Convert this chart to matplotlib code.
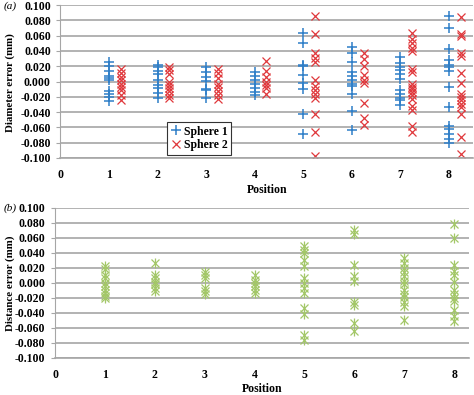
import numpy as np
import matplotlib.pyplot as plt

# ==== DATOS ====
positions = [1, 2, 3, 4, 5, 6, 7, 8]

# Panel (a): error de diámetro (mm) por posición
sphere1 = [
    [0.026, 0.020, 0.014, 0.007, 0.005, 0.002, -0.012, -0.016, -0.020, -0.026],
    [0.022, 0.019, 0.014, 0.010, 0.002, -0.005, -0.009, -0.015, -0.022],
    [0.019, 0.012, 0.006, 0.001, -0.010, -0.011, -0.022],
    [0.012, 0.007, 0.002, -0.003, -0.008, -0.014, -0.018],
    [0.063, 0.050, 0.022, 0.021, 0.008, -0.002, -0.010, -0.043, -0.069],
    [0.045, 0.038, 0.026, 0.012, 0.007, 0.002, -0.003, -0.006, -0.016, -0.038, -0.063],
    [0.032, 0.024, 0.019, 0.015, 0.010, 0.004, -0.011, -0.016, -0.022, -0.024, -0.031],
    [0.086, 0.070, 0.042, 0.028, 0.022, 0.019, 0.014, -0.007, -0.033, -0.058, -0.062, -0.068, -0.075, -0.081],
]
sphere2 = [
    [0.017, 0.011, 0.006, 0.002, -0.003, -0.007, -0.011, -0.017, -0.024],
    [0.019, 0.015, 0.010, -0.001, -0.005, -0.008, -0.012, -0.018, -0.022],
    [0.017, 0.011, 0.005, -0.003, -0.007, -0.012, -0.018, -0.023],
    [0.027, 0.014, 0.006, -0.001, -0.005, -0.009, -0.016],
    [0.086, 0.062, 0.037, 0.031, 0.026, 0.002, -0.006, -0.011, -0.016, -0.021, -0.042, -0.066, -0.097],
    [0.038, 0.029, 0.020, 0.009, 0.002, -0.002, -0.028, -0.048, -0.057],
    [0.063, 0.056, 0.050, 0.044, 0.040, 0.016, 0.012, -0.003, -0.007, -0.010, -0.014, -0.018, -0.023,
     -0.032, -0.037, -0.058, -0.066],
    [0.085, 0.062, 0.059, 0.038, 0.034, 0.011, -0.002, -0.016, -0.020, -0.024, -0.029, -0.033, -0.042,
     -0.072, -0.095],
]

# Panel (b): error de distancia (mm) por posición
distance = [
    [0.022, 0.018, 0.011, 0.007, 0.000, -0.004, -0.009, -0.013, -0.018, -0.020],
    [0.027, 0.011, 0.007, 0.001, -0.002, -0.007, -0.011],
    [0.015, 0.011, 0.007, -0.007, -0.011, -0.015],
    [0.011, 0.004, 0.000, -0.004, -0.009, -0.013],
    [0.049, 0.044, 0.040, 0.031, 0.022, 0.007, 0.000, -0.007, -0.013, -0.033, -0.041, -0.069, -0.076],
    [0.071, 0.065, 0.024, 0.009, 0.003, -0.025, -0.029, -0.053, -0.064],
    [0.033, 0.027, 0.020, 0.015, 0.009, 0.003, -0.002, -0.009, -0.015, -0.019, -0.025, -0.031, -0.049],
    [0.079, 0.060, 0.024, 0.016, 0.011, 0.001, -0.009, -0.015, -0.020, -0.024, -0.036, -0.044, -0.051],
]

y_ticks = np.arange(-0.1, 0.1001, 0.02)
x_ticks = [0, 1, 2, 3, 4, 5, 6, 7, 8]
# ======================

BLUE = "#2f7fc8"
RED = "#e0383c"
GREEN = "#a3c768"
GRID = "#a6a6a6"
OFFSET2 = 0.24   # desplazamiento de la esfera 2

plt.rcParams["font.family"] = ["Liberation Serif", "DejaVu Serif"]
plt.rcParams["font.weight"] = "bold"


def flatten(groups, shift=0.0):
    xs, ys = [], []
    for p, vals in zip(positions, groups):
        xs += [p + shift] * len(vals)
        ys += vals
    return xs, ys


def style_axes(ax, xmax):
    ax.set_ylim(-0.1, 0.1)
    ax.set_xlim(0, xmax)
    ax.set_yticks(y_ticks)
    ax.set_yticklabels([f"{v:.3f}" for v in y_ticks])
    ax.set_xticks(x_ticks)
    ax.set_xticklabels([str(v) for v in x_ticks])
    ax.yaxis.grid(True, color=GRID, lw=1.2)
    ax.set_axisbelow(True)
    for s in ["top", "right"]:
        ax.spines[s].set_visible(False)
    ax.spines["left"].set_color(GRID)
    ax.spines["bottom"].set_color(GRID)
    ax.spines["bottom"].set_linewidth(1.2)
    ax.tick_params(axis="y", length=3, color=GRID, labelsize=8.5, pad=4)
    ax.tick_params(axis="x", length=0, labelsize=8.5, pad=8)
    for lab in ax.get_xticklabels() + ax.get_yticklabels():
        lab.set_fontweight("bold")


fig = plt.figure(figsize=(4.74, 3.95), dpi=100)

# ---- Panel (a) ----
ax1 = fig.add_axes([0.1276, 0.600, 0.871, 0.387])
x1, y1 = flatten(sphere1)
x2, y2 = flatten(sphere2, OFFSET2)
ax1.plot(x1, y1, ls="none", marker="+", ms=7, mew=1.1, color=BLUE, label="Sphere 1")
ax1.plot(x2, y2, ls="none", marker="x", ms=6, mew=0.9, color=RED, label="Sphere 2")
style_axes(ax1, 8.5)
leg = ax1.legend(loc="lower left", bbox_to_anchor=(0.259, 0.02), borderaxespad=0,
                 fontsize=8.5, handlelength=0.8, handletextpad=0.3, borderpad=0.3,
                 labelspacing=0.15, fancybox=False, framealpha=1)
leg.get_frame().set_edgecolor("#333333")
leg.get_frame().set_linewidth(0.8)
fig.text(0.563, 0.519, "Position", ha="center", va="center", fontsize=8.5, fontweight="bold")
fig.text(0.021, 0.792, "Diameter error (mm)", rotation=90, ha="center", va="center",
         fontsize=7.8, fontweight="bold")
fig.text(0.008, 0.985, "(a)", ha="left", va="center", fontsize=8, style="italic", fontweight="normal")

# ---- Panel (b) ----
ax2 = fig.add_axes([0.1165, 0.0937, 0.873, 0.380])
xd, yd = flatten(distance)
ax2.plot(xd, yd, ls="none", marker="x", ms=6, mew=0.9, color=GREEN)
ax2.plot(xd, yd, ls="none", marker="|", ms=7, mew=0.9, color=GREEN)
style_axes(ax2, 8.3)
fig.text(0.553, 0.014, "Position", ha="center", va="center", fontsize=8.5, fontweight="bold")
fig.text(0.021, 0.284, "Distance error (mm)", rotation=90, ha="center", va="center",
         fontsize=7.8, fontweight="bold")
fig.text(0.008, 0.473, "(b)", ha="left", va="center", fontsize=8, style="italic", fontweight="normal")

fig.savefig("out.png", dpi=100)
